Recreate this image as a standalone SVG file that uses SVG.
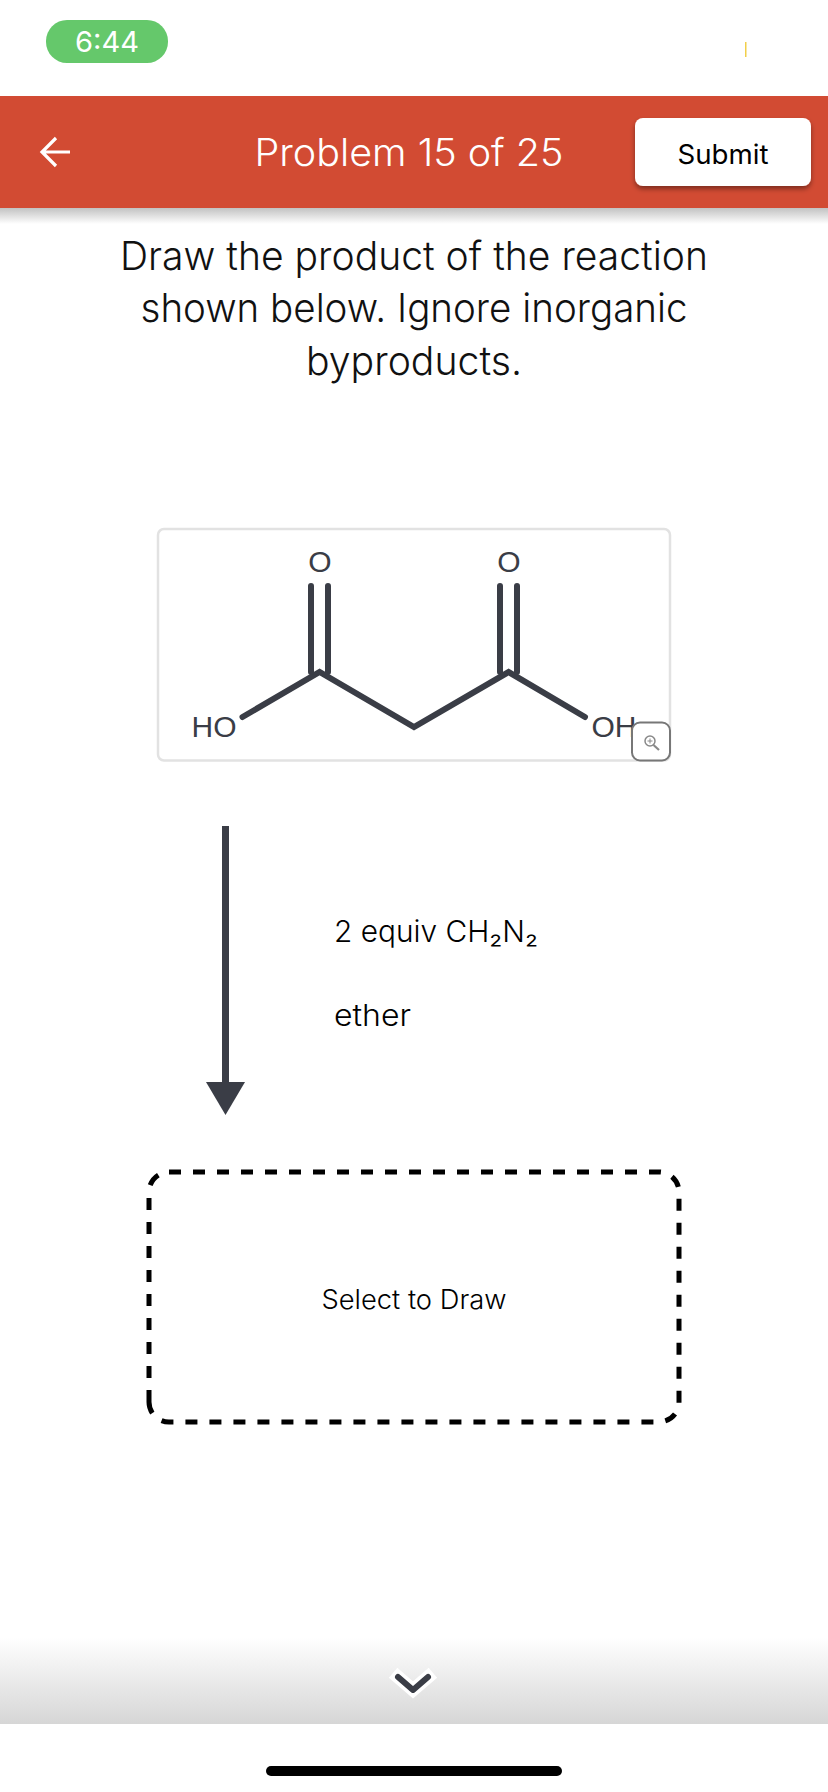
<svg xmlns="http://www.w3.org/2000/svg" width="828" height="1792" viewBox="0 0 828 1792">
<style>
text{font-family:"Inter","Liberation Sans",sans-serif;font-weight:300}
.h{font-size:40px;fill:#111;text-anchor:middle;font-weight:300}
.r{font-size:30px;fill:#000}
.a{font-family:"Liberation Sans",Arial,sans-serif;font-size:30px;fill:#3a3d46;text-anchor:middle;font-weight:400}
.b{stroke:#3a3d46;stroke-width:6;stroke-linecap:round;fill:none}
.d{fill:none;stroke:#000;stroke-width:5}
</style>
<defs>
<linearGradient id="sh" x1="0" y1="0" x2="0" y2="1"><stop offset="0" stop-color="#c2c2c2"/><stop offset="1" stop-color="#fff"/></linearGradient>
<linearGradient id="fade" x1="0" y1="0" x2="0" y2="1"><stop offset="0" stop-color="#fff"/><stop offset="1" stop-color="#d6d6d6"/></linearGradient>
<filter id="ds" x="-10%" y="-10%" width="120%" height="130%"><feDropShadow dx="0" dy="3" stdDeviation="2.5" flood-color="#000" flood-opacity=".4"/></filter>
</defs>
<rect width="828" height="1792" fill="#fff"/>
<g id="status">
<rect x="46" y="20" width="122" height="43" rx="21" fill="#65c86b"/>
<text x="107" y="52" font-size="29" fill="#fff" text-anchor="middle" style="font-weight:400" textLength="64" lengthAdjust="spacingAndGlyphs">6:44</text>
<rect x="745" y="42" width="1.5" height="15" fill="#f2cf4a"/>
</g>
<g id="header">
<rect y="208" width="828" height="16" fill="url(#sh)"/>
<rect y="96" width="828" height="112" fill="#d24b33"/>
<path d="M70 152H43M56 138L42 152L56 166" fill="none" stroke="#fff" stroke-width="3.2"/>
<text x="409" y="166" font-size="38" fill="#fff" text-anchor="middle" textLength="309" lengthAdjust="spacingAndGlyphs">Problem 15 of 25</text>
<g id="submit"><rect x="635" y="118" width="176" height="68" rx="8" fill="#fff" filter="url(#ds)"/>
<text x="723" y="164" font-size="27" fill="#000" text-anchor="middle" textLength="91" lengthAdjust="spacingAndGlyphs" style="font-weight:400">Submit</text></g>
</g>
<g id="question">
<text class="h" x="414" y="270" textLength="588" lengthAdjust="spacingAndGlyphs">Draw the product of the reaction</text>
<text class="h" x="414" y="322" textLength="547" lengthAdjust="spacingAndGlyphs">shown below. Ignore inorganic</text>
<text class="h" x="414" y="375" textLength="216" lengthAdjust="spacingAndGlyphs">byproducts.</text>
</g>
<g id="molecule">
<rect x="158" y="529" width="512" height="231.500" rx="6" fill="#fff" stroke="#e2e2e2" stroke-width="2.500"/>
<g id="bonds">
<path class="b" d="M242.500 717L319.600 672L414 727L508.600 672L585 717"/>
<path class="b" d="M311 586V672M328 586V672M500 586V672M517 586V672"/>
</g>
<g id="atoms">
<text class="a" x="320" y="572">O</text>
<text class="a" x="509" y="572">O</text>
<text class="a" x="214" y="737">HO</text>
<text class="a" x="614" y="737">OH</text>
</g>
<g id="zoom-button">
<rect x="632" y="722.500" width="38" height="38" rx="8" fill="#fff" stroke="#777" stroke-width="2"/>
<circle cx="650" cy="741" r="5" fill="none" stroke="#888" stroke-width="1.500"/>
<path d="M653.500 745L659 750" stroke="#888" stroke-width="2.200" fill="none"/>
<path d="M647.500 741H652.500M650 738.500V743.500" stroke="#888" stroke-width="1" fill="none"/>
</g>
</g>
<g id="connectors">
<rect x="222" y="826" width="7" height="258" fill="#3a3d46"/>
<polygon points="206,1082 245,1082 225.500,1115" fill="#3a3d46"/>
</g>
<g id="conditions">
<text class="r" x="334" y="942" textLength="204" lengthAdjust="spacingAndGlyphs">2 equiv CH₂N₂</text>
<text class="r" x="334" y="1026" textLength="77" lengthAdjust="spacingAndGlyphs">ether</text>
</g>
<g id="answer-box">
<path class="d" stroke-dasharray="12 12" d="M169 1172H659A20 20 0 0 1 679 1192V1402A20 20 0 0 1 659 1422H169A20 20 0 0 1 149 1402"/>
<path class="d" stroke-dasharray="12 12" stroke-dashoffset="18" d="M149 1192V1402"/>
<path class="d" stroke-dasharray="0 7 13 40" d="M149 1192A20 20 0 0 1 169 1172"/>
<text x="414" y="1309" font-size="27" fill="#000" text-anchor="middle" textLength="185" lengthAdjust="spacingAndGlyphs">Select to Draw</text>
</g>
<g id="footer">
<rect y="1637" width="828" height="87" fill="url(#fade)"/>
<path d="M398 1677L413 1690L428 1677" fill="none" stroke="#fff" stroke-width="13" stroke-linejoin="miter" stroke-linecap="square"/>
<path d="M398 1677L413 1690L428 1677" fill="none" stroke="#3a3d46" stroke-width="6" stroke-linecap="round" stroke-linejoin="round"/>
<rect x="266" y="1766" width="296" height="10" rx="5" fill="#000"/>
</g>
</svg>
